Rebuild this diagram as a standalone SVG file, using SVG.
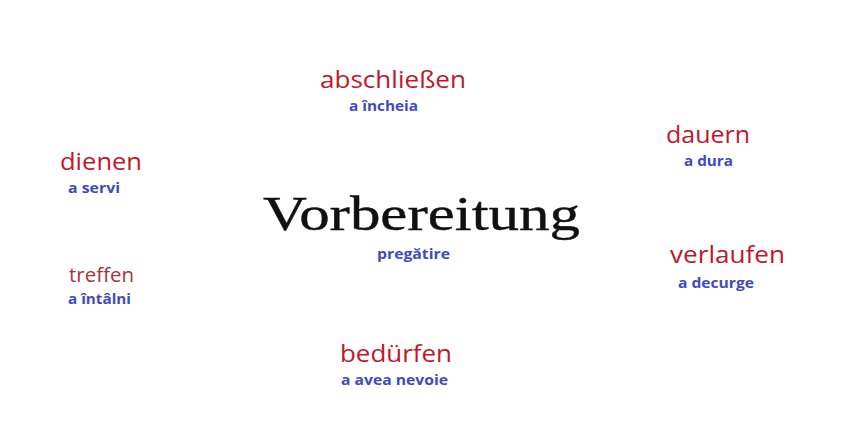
<svg xmlns="http://www.w3.org/2000/svg" width="850" height="435" viewBox="0 0 850 435">
<style>
.de{font-family:"Open Sans","Noto Sans","DejaVu Sans",sans-serif;font-size:23px;fill:#c3162b}
.ro{font-family:"Open Sans","Noto Sans","DejaVu Sans",sans-serif;font-size:15px;font-weight:bold;fill:#3f4bbf}
.main{font-family:"Liberation Serif","Times New Roman",serif;font-size:48px;fill:#111;stroke:#111;stroke-width:0.4}
</style>
<rect width="850" height="435" fill="#fff"/>
<g id="connectors"/>
<g id="n-vorbereitung">
<text class="main" x="263" y="230" textLength="317" lengthAdjust="spacingAndGlyphs">Vorbereitung</text>
<text class="ro" x="377" y="259" textLength="73" lengthAdjust="spacingAndGlyphs">pregătire</text>
</g>
<g id="n-abschliessen">
<text class="de" x="320" y="88" textLength="146" lengthAdjust="spacingAndGlyphs">abschließen</text>
<text class="ro" x="349" y="111" textLength="69" lengthAdjust="spacingAndGlyphs">a încheia</text>
</g>
<g id="n-dauern">
<text class="de" x="666" y="143" textLength="84" lengthAdjust="spacingAndGlyphs">dauern</text>
<text class="ro" x="684" y="166" textLength="49" lengthAdjust="spacingAndGlyphs">a dura</text>
</g>
<g id="n-dienen">
<text class="de" x="60" y="170" textLength="82" lengthAdjust="spacingAndGlyphs">dienen</text>
<text class="ro" x="68" y="193" textLength="52" lengthAdjust="spacingAndGlyphs">a servi</text>
</g>
<g id="n-verlaufen">
<text class="de" x="670" y="263" textLength="115" lengthAdjust="spacingAndGlyphs">verlaufen</text>
<text class="ro" x="678" y="288" textLength="76" lengthAdjust="spacingAndGlyphs">a decurge</text>
</g>
<g id="n-treffen">
<text class="de" x="69" y="282" style="font-size:20px;fill:#a8323f" textLength="65" lengthAdjust="spacingAndGlyphs">treffen</text>
<text class="ro" x="68" y="304" textLength="63" lengthAdjust="spacingAndGlyphs">a întâlni</text>
</g>
<g id="n-beduerfen">
<text class="de" x="340" y="362" textLength="112" lengthAdjust="spacingAndGlyphs">bedürfen</text>
<text class="ro" x="341" y="385" textLength="107" lengthAdjust="spacingAndGlyphs">a avea nevoie</text>
</g>
</svg>
